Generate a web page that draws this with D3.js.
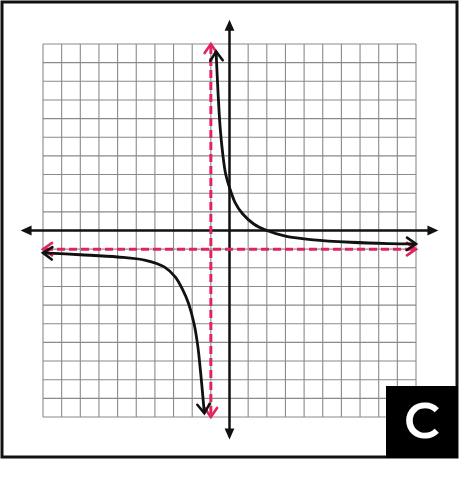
<!DOCTYPE html>
<html><head><meta charset="utf-8">
<script src="https://cdn.jsdelivr.net/npm/d3@7"></script>
<style>body{margin:0;background:#fff}</style></head>
<body><svg id="c" width="474" height="486"></svg>
<script>
// values (graph units)
var gridTicks = d3.range(-10, 11);
var xAxisEnds = [-11.2, 11.2];
var yAxisEnds = [11.3, -11.2];
var asymX = -1, asymY = -1;
var rightBranch = [[-0.72,9.6],[-0.62,7.5],[-0.5,5.5],[-0.35,4],[-0.2,3],[0,2.3],[0.3,1.5],[0.7,0.9],[1.3,0.35],[2,0],[3,-0.3],[4.5,-0.5],[6.5,-0.63],[8.5,-0.7],[10,-0.72]];
var leftBranch = [[-10,-1.2],[-8,-1.3],[-6,-1.42],[-4.5,-1.6],[-3.5,-1.95],[-2.9,-2.5],[-2.5,-3.2],[-2.2,-3.9],[-1.9,-5],[-1.7,-6.2],[-1.55,-7.6],[-1.42,-9],[-1.35,-9.8]];

var svg = d3.select("#c");
var x = d3.scaleLinear().domain([-10,10]).range([43,416]);
var y = d3.scaleLinear().domain([10,-10]).range([44,417]);
var pink = "#e0245e";

svg.append("rect").attr("x",2).attr("y",2).attr("width",455).attr("height",455)
    .attr("fill","#fff").attr("stroke","#111").attr("stroke-width",3);

// grid
var g = svg.append("g").attr("stroke","#8a8a8a").attr("stroke-width",1.1);
g.selectAll(".v").data(gridTicks).enter().append("line")
    .attr("x1",d=>x(d)).attr("x2",d=>x(d)).attr("y1",y(10)).attr("y2",y(-10));
g.selectAll(".h").data(gridTicks).enter().append("line")
    .attr("y1",d=>y(d)).attr("y2",d=>y(d)).attr("x1",x(-10)).attr("x2",x(10));

function chevron(px, py, ang, col, w){
    // open arrowhead pointing in direction ang (radians)
    var L = 11, s = 0.6;
    var p = [[px - L*Math.cos(ang - s), py - L*Math.sin(ang - s)], [px,py],
             [px - L*Math.cos(ang + s), py - L*Math.sin(ang + s)]];
    svg.append("path").attr("d", d3.line()(p)).attr("fill","none")
        .attr("stroke",col).attr("stroke-width",w).attr("stroke-linecap","round");
}
function filledArrow(px, py, ang){
    var L = 12, s = 0.42;
    var p = [[px,py],[px - L*Math.cos(ang - s), py - L*Math.sin(ang - s)],
             [px - L*Math.cos(ang + s), py - L*Math.sin(ang + s)]];
    svg.append("path").attr("d", d3.line()(p)+"Z").attr("fill","#111");
}

// axes
svg.append("line").attr("x1",x(xAxisEnds[0])+6).attr("x2",x(xAxisEnds[1])-6)
    .attr("y1",y(0)).attr("y2",y(0)).attr("stroke","#111").attr("stroke-width",2.5);
svg.append("line").attr("y1",y(yAxisEnds[0])+6).attr("y2",y(yAxisEnds[1])-6)
    .attr("x1",x(0)).attr("x2",x(0)).attr("stroke","#111").attr("stroke-width",2.5);
filledArrow(x(xAxisEnds[0]), y(0), Math.PI);
filledArrow(x(xAxisEnds[1]), y(0), 0);
filledArrow(x(0), y(yAxisEnds[0]), -Math.PI/2);
filledArrow(x(0), y(yAxisEnds[1]), Math.PI/2);

// asymptotes
svg.append("line").attr("x1",x(asymX)).attr("x2",x(asymX)).attr("y1",y(10)+2).attr("y2",y(-10)-2)
    .attr("stroke",pink).attr("stroke-width",3).attr("stroke-dasharray","8,4");
svg.append("line").attr("y1",y(asymY)).attr("y2",y(asymY)).attr("x1",x(-10)+2).attr("x2",x(10)-2)
    .attr("stroke",pink).attr("stroke-width",3).attr("stroke-dasharray","8,4");
chevron(x(asymX), y(10), -Math.PI/2, pink, 2.6);
chevron(x(asymX), y(-10), Math.PI/2, pink, 2.6);
chevron(x(-10), y(asymY), Math.PI, pink, 2.6);
chevron(x(10), y(asymY), 0, pink, 2.6);

// curve
var line = d3.line().x(d=>x(d[0])).y(d=>y(d[1])).curve(d3.curveCatmullRom);
[rightBranch, leftBranch].forEach(function(b){
    svg.append("path").attr("d", line(b)).attr("fill","none")
        .attr("stroke","#111").attr("stroke-width",2.8);
});
function endArrow(b, first){
    var a = first ? b[1] : b[b.length-2], e = first ? b[0] : b[b.length-1];
    var ang = Math.atan2(y(e[1]) - y(a[1]), x(e[0]) - x(a[0]));
    chevron(x(e[0]), y(e[1]), ang, "#111", 2.6);
}
endArrow(rightBranch, true); endArrow(rightBranch, false);
endArrow(leftBranch, true); endArrow(leftBranch, false);

// label box
svg.append("rect").attr("x",386).attr("y",386).attr("width",72).attr("height",72).attr("fill","#000");
svg.append("text").attr("x",422).attr("y",438).attr("text-anchor","middle")
    .attr("font-family","Montserrat, 'Open Sans', sans-serif").attr("font-weight",600)
    .attr("font-size",50).attr("fill","#fff").text("C");
</script></body></html>
